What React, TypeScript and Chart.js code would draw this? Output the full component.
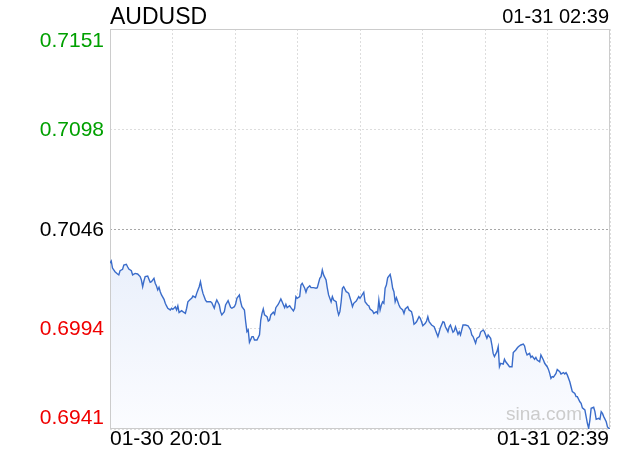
import React, { useEffect, useRef } from "react";
import { Chart, registerables } from "chart.js";

Chart.register(...registerables);

const symbolName = "AUDUSD";
const updateTime = "01-31 02:39";
const startTime = "01-30 20:01";
const endTime = "01-31 02:39";
const watermark = "sina.com";
const yTickValues = [0.6941, 0.6994, 0.7046, 0.7098, 0.7151];
const yTickLabels = ["0.6941", "0.6994", "0.7046", "0.7098", "0.7151"];
const prevClose = 0.7046;
const sessionMinutes = 398;
const xGridDivisions = 8;

// minutes after 20:01
const minutes = [
  0, 1, 2, 4, 6, 7, 8, 10, 11, 13, 14, 15, 17, 18, 20, 22, 24, 25, 26, 27,
  28, 30, 31, 32, 33, 35, 36, 37, 38, 39, 40, 41, 43, 44, 45, 46, 48, 49, 50, 52,
  53, 54, 55, 57, 58, 60, 61, 62, 64, 65, 66, 68, 69, 70, 71, 72, 73, 74, 76, 77,
  80, 81, 83, 84, 85, 87, 88, 89, 91, 92, 94, 95, 96, 97, 99, 100, 101, 103, 104, 105,
  107, 108, 109, 110, 111, 113, 114, 115, 117, 119, 120, 121, 122, 123, 125, 126, 127, 128, 130, 131,
  132, 134, 136, 137, 139, 140, 141, 143, 144, 146, 147, 148, 149, 151, 152, 153, 155, 156, 157, 159,
  160, 162, 164, 165, 167, 168, 169, 170, 172, 173, 174, 176, 177, 178, 180, 181, 182, 183, 184, 185,
  186, 188, 189, 190, 192, 193, 194, 196, 198, 199, 202, 203, 205, 206, 207, 209, 210, 212, 213, 214,
  215, 216, 217, 218, 219, 220, 221, 223, 224, 225, 226, 227, 228, 230, 231, 233, 234, 235, 237, 238,
  240, 241, 242, 243, 244, 246, 247, 248, 249, 251, 252, 253, 254, 256, 258, 259, 261, 262, 263, 265,
  266, 267, 269, 270, 271, 273, 274, 275, 277, 278, 279, 280, 281, 283, 285, 287, 288, 289, 291, 292,
  294, 295, 297, 298, 300, 301, 303, 304, 305, 306, 308, 309, 310, 311, 313, 314, 315, 317, 318, 320,
  321, 323, 324, 325, 327, 329, 330, 331, 332, 334, 335, 336, 338, 339, 340, 342, 343, 345, 346, 348,
  349, 350, 351, 352, 353, 355, 356, 358, 359, 361, 362, 363, 364, 366, 367, 368, 370, 371, 372, 374,
  375, 376, 378, 379, 380, 381, 382, 383, 385, 386, 387, 389, 390, 391, 392, 393, 395, 396, 397, 398,
];

const prices = [
  0.7028, 0.70292, 0.70255, 0.70236, 0.70224, 0.70219, 0.70241, 0.70248, 0.70271, 0.70275,
  0.70262, 0.7025, 0.70241, 0.70219, 0.70227, 0.70224, 0.7021, 0.70192, 0.70157, 0.70187,
  0.7021, 0.70213, 0.70196, 0.7018, 0.70183, 0.70201, 0.70175, 0.70161, 0.7014, 0.70154,
  0.70131, 0.70114, 0.70091, 0.7007, 0.70056, 0.70044, 0.70035, 0.70044, 0.70038, 0.70052,
  0.70035, 0.70056, 0.70021, 0.70031, 0.70026, 0.70017, 0.70044, 0.70078, 0.70091, 0.70096,
  0.70108, 0.70101, 0.70122, 0.7014, 0.70157, 0.70183, 0.70149, 0.70122, 0.70087, 0.70078,
  0.70078, 0.70073, 0.70044, 0.7007, 0.70087, 0.70061, 0.70026, 0.70009, 0.70026, 0.70061,
  0.70084, 0.70066, 0.70049, 0.70044, 0.70052, 0.70066, 0.70096, 0.70114, 0.70078, 0.70052,
  0.70035, 0.69973, 0.69921, 0.6993, 0.69865, 0.69895, 0.69895, 0.69877, 0.69877, 0.69904,
  0.69982, 0.70017, 0.7004, 0.70009, 0.7, 0.69977, 0.69982, 0.70009, 0.70023, 0.70012,
  0.70047, 0.70065, 0.70093, 0.70078, 0.70047, 0.70065, 0.70047, 0.70057, 0.70047, 0.7003,
  0.70044, 0.70105, 0.70096, 0.70105, 0.70166, 0.70175, 0.70149, 0.70128, 0.70149, 0.70162,
  0.70152, 0.70152, 0.70149, 0.70152, 0.70201, 0.7021, 0.70245, 0.70219, 0.70192, 0.70149,
  0.70114, 0.70078, 0.70105, 0.70087, 0.70078, 0.70035, 0.70009, 0.70026, 0.70078, 0.70149,
  0.70157, 0.70131, 0.70128, 0.70122, 0.70078, 0.70052, 0.7007, 0.70082, 0.70105, 0.70096,
  0.70128, 0.70078, 0.70061, 0.70057, 0.7004, 0.7003, 0.70017, 0.70026, 0.70017, 0.70087,
  0.70035, 0.70061, 0.70078, 0.7007, 0.70149, 0.70166, 0.70204, 0.70222, 0.70192, 0.70149,
  0.70131, 0.70078, 0.70099, 0.70061, 0.70047, 0.70035, 0.70017, 0.7004, 0.70052, 0.70035,
  0.70026, 0.7, 0.6996, 0.69965, 0.69973, 0.7, 0.69991, 0.69973, 0.69952, 0.69965,
  0.69977, 0.7, 0.69973, 0.69956, 0.69947, 0.6993, 0.69895, 0.69918, 0.69942, 0.69973,
  0.6997, 0.69947, 0.69921, 0.69947, 0.69956, 0.69918, 0.69925, 0.69947, 0.69907, 0.69921,
  0.69904, 0.6993, 0.69956, 0.69956, 0.69952, 0.6993, 0.69904, 0.69895, 0.6986, 0.69886,
  0.69895, 0.69919, 0.6993, 0.69921, 0.69886, 0.69904, 0.69886, 0.69851, 0.69807, 0.6979,
  0.69816, 0.69842, 0.69737, 0.69755, 0.69751, 0.69776, 0.69763, 0.69746, 0.69737, 0.69737,
  0.69811, 0.69825, 0.69834, 0.69842, 0.69851, 0.69856, 0.69846, 0.69816, 0.69799, 0.69807,
  0.69786, 0.69793, 0.69776, 0.69786, 0.69772, 0.69763, 0.69799, 0.69772, 0.69755, 0.69737,
  0.69723, 0.69702, 0.69676, 0.69685, 0.69682, 0.69702, 0.69723, 0.69711, 0.69699, 0.69706,
  0.69699, 0.69706, 0.69694, 0.69658, 0.69632, 0.69606, 0.69597, 0.6958, 0.6958, 0.69553,
  0.69545, 0.69521, 0.6951, 0.69475, 0.6944, 0.69414, 0.69457, 0.69519, 0.69524, 0.69501,
  0.69461, 0.69466, 0.69461, 0.69501, 0.69492, 0.69475, 0.69448, 0.69421, 0.69414, 0.6941,
];

const FONT = '"Liberation Sans", Arial, Helvetica, sans-serif';

const overlayPlugin = {
  id: "sinaOverlay",
  beforeDatasetsDraw(chart: any) {
    const { ctx, chartArea: a } = chart;
    ctx.save();
    ctx.font = `19px ${FONT}`;
    ctx.fillStyle = "#cccccc";
    ctx.textAlign = "right";
    ctx.textBaseline = "alphabetic";
    ctx.fillText(watermark, a.right - 28, a.bottom - 9.5);
    ctx.strokeStyle = "#cccccc";
    ctx.lineWidth = 1;
    ctx.setLineDash([]);
    ctx.strokeRect(a.left + 0.5, a.top + 0.5, a.right - a.left - 1, a.bottom - a.top - 1);
    ctx.restore();
  },
  afterDraw(chart: any) {
    const { ctx, chartArea: a, scales } = chart;
    const y = scales.y;
    ctx.save();
    ctx.textBaseline = "alphabetic";
    ctx.fillStyle = "#000";
    ctx.font = `23px ${FONT}`;
    ctx.textAlign = "left";
    ctx.fillText(symbolName, a.left, 24);
    ctx.font = `20px ${FONT}`;
    ctx.textAlign = "right";
    ctx.fillText(updateTime, a.right - 1, 23);
    ctx.font = `21px ${FONT}`;
    ctx.textAlign = "left";
    ctx.fillText(startTime, a.left, a.bottom + 16);
    ctx.textAlign = "right";
    ctx.fillText(endTime, a.right - 1, a.bottom + 16);
    ctx.font = `21px ${FONT}`;
    ctx.textAlign = "right";
    yTickValues.forEach((v, i) => {
      let py = y.getPixelForValue(v) + 6.5;
      if (i === yTickValues.length - 1) py = a.top + 17.5;
      if (i === 0) py = a.bottom - 5.5;
      ctx.fillStyle = v > prevClose ? "#00a000" : v < prevClose ? "#f00000" : "#000000";
      ctx.fillText(yTickLabels[i], a.left - 6, py);
    });
    ctx.restore();
  },
};

export default function App() {
  const canvasRef = useRef<HTMLCanvasElement | null>(null);

  useEffect(() => {
    const canvas = canvasRef.current;
    if (!canvas) return;
    const maxPrice = Math.max(...prices);
    const chart = new Chart(canvas, {
      type: "line",
      data: {
        datasets: [
          {
            data: minutes.map((m, i) => ({ x: m, y: prices[i] })),
            borderColor: "#3a6cca",
            borderWidth: 1.4,
            pointRadius: 0,
            tension: 0,
            fill: "start",
            backgroundColor: (c: any) => {
              const ch = c.chart;
              const area = ch.chartArea;
              if (!area) return "rgba(0,0,0,0)";
              const y0 = ch.scales.y.getPixelForValue(maxPrice);
              const g = ch.ctx.createLinearGradient(0, y0, 0, area.bottom);
              g.addColorStop(0, "#eaf0fb");
              g.addColorStop(1, "#fbfcff");
              return g;
            },
          },
        ],
      },
      options: {
        animation: false,
        responsive: false,
        events: [],
        layout: { padding: { left: 110, right: 10, top: 29, bottom: 31 } },
        plugins: {
          legend: { display: false },
          tooltip: { enabled: false },
          filler: { drawTime: "beforeDatasetsDraw" },
        } as any,
        scales: {
          x: {
            type: "linear",
            min: 0,
            max: sessionMinutes,
            afterBuildTicks: (axis: any) => {
              axis.ticks = Array.from({ length: xGridDivisions + 1 }, (_, i) => ({
                value: (i * sessionMinutes) / xGridDivisions,
              }));
            },
            ticks: { display: false },
            grid: { color: "#dddddd", drawTicks: false, lineWidth: 1 },
            border: { display: false, dash: [2, 2] },
          },
          y: {
            type: "linear",
            min: yTickValues[0],
            max: yTickValues[yTickValues.length - 1],
            afterBuildTicks: (axis: any) => {
              axis.ticks = yTickValues.map((v) => ({ value: v }));
            },
            ticks: { display: false },
            grid: {
              color: (c: any) => (c.tick && c.tick.value === prevClose ? "#a8a8a8" : "#dddddd"),
              drawTicks: false,
              lineWidth: 1,
            },
            border: { display: false, dash: [2, 2] },
          },
        },
      },
      plugins: [overlayPlugin],
    });
    return () => chart.destroy();
  }, []);

  return (
    <div style={{ position: "absolute", left: 0, top: 0, width: 620, height: 460, background: "#fff" }}>
      <canvas ref={canvasRef} width={620} height={460} style={{ display: "block" }} />
    </div>
  );
}
